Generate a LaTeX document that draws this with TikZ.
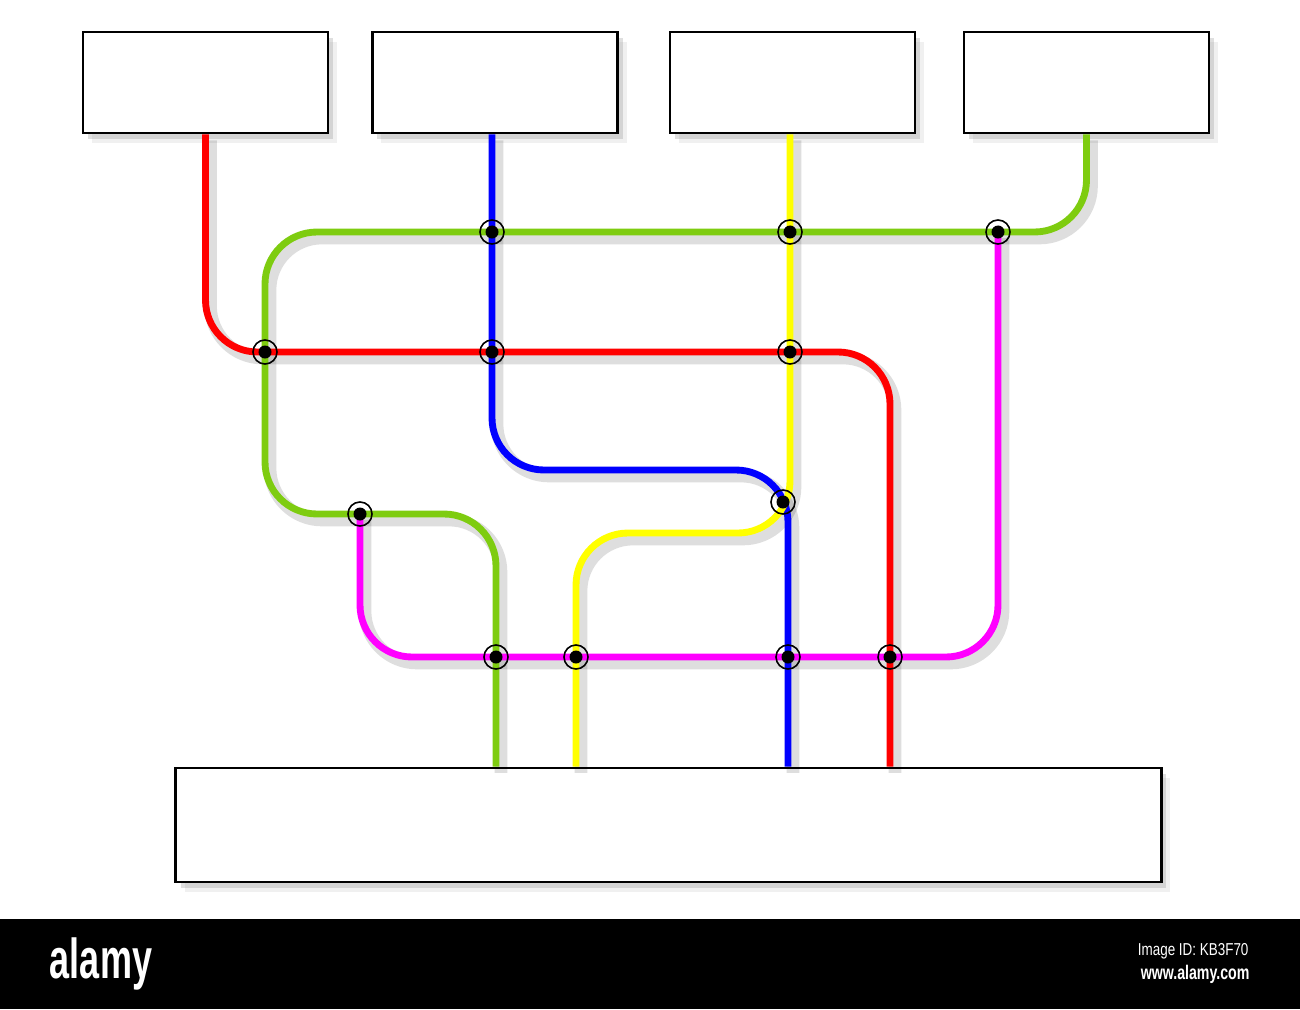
\documentclass[tikz,border=0pt]{standalone}
\usepackage{fontspec}
\newfontfamily\barfont{Liberation Sans}
\usetikzlibrary{shadows}
\definecolor{linegreen}{RGB}{126,204,16}
\definecolor{linemagenta}{RGB}{255,0,255}
\definecolor{lineyellow}{RGB}{255,255,0}

% routes, from box to box
\newcommand{\redroute}{(box1.south) -- (box1.south |- rA) -- (mE |- rA) -- (mE |- base.north)}
\newcommand{\blueroute}{(gA |- box2.south) -- (gA |- bw) -- (mD |- bw) -- (mD |- base.north)}
\newcommand{\yellowroute}{(gB |- box3.south) -- (gB |- yw) -- (mC |- yw) -- (mC |- base.north)}
\newcommand{\greenroute}{(box4.south) -- (box4.south |- gC) -- (rA |- gC) -- (rA |- mA) -- (mB |- mA) -- (mB |- base.north)}
\newcommand{\magentaroute}{(mA) -- (mA |- mB) -- (gC |- mB) -- (gC)}

\begin{document}
\begin{tikzpicture}[x=0.01cm,y=-0.01cm,
	box/.style={draw,line width=0.7pt,fill=white,inner sep=0pt,minimum width=2.45cm,minimum height=1.01cm,
		drop shadow={shadow xshift=0.09cm,shadow yshift=-0.1cm,opacity=0.12},
		drop shadow={shadow xshift=0.05cm,shadow yshift=-0.06cm,opacity=0.25}},
	route/.style={line width=1.95pt,rounded corners=0.52cm},
	routeshadow/.style={route,line width=3.6pt,black,opacity=0.13,transform canvas={xshift=0.05cm,yshift=-0.06cm}},
	ring/.style={circle,draw,line width=0.45pt,minimum size=0.24cm,inner sep=0pt},
	dot/.style={circle,fill,minimum size=0.13cm,inner sep=0pt}]
			\useasboundingbox (0,0) rectangle (1300,1009);

			% boxes
			\node[box] (box1) at (205.5,82.5) {};
			\node[box] (box2) at (495,82.5) {};
			\node[box] (box3) at (792.5,82.5) {};
			\node[box] (box4) at (1086.5,82.5) {};
			\node[box,minimum width=9.85cm,minimum height=1.14cm] (base) at (668.5,825) {};

			% stations and bends
			\coordinate (gA) at (492,232);
			\coordinate (gB) at (790,232);
			\coordinate (gC) at (998,232);
			\coordinate (rA) at (265,352);
			\coordinate (rB) at (492,352);
			\coordinate (rC) at (790,352);
			\coordinate (bY) at (783,502);
			\coordinate (mA) at (360,514);
			\coordinate (mB) at (496,657);
			\coordinate (mC) at (576,657);
			\coordinate (mD) at (788,657);
			\coordinate (mE) at (890,657);
			\coordinate (bw) at (640,470);
			\coordinate (yw) at (680,533);

			% shadows first
			\draw[routeshadow] \redroute;
			\draw[routeshadow] \blueroute;
			\draw[routeshadow] \yellowroute;
			\draw[routeshadow] \greenroute;
			\draw[routeshadow] \magentaroute;

			\draw[route,red] \redroute;
			\draw[route,blue] \blueroute;
			\draw[route,lineyellow] \yellowroute;
			\draw[route,linegreen] \greenroute;
			\draw[route,linemagenta] \magentaroute;

			\foreach \s in {gA,gB,gC,rA,rB,rC,bY,mA,mB,mC,mD,mE}{
				\node[ring] (ring-\s) at (\s) {};
				\node[dot] (dot-\s) at (\s) {};
			}

			% bottom bar
			\fill[black] (0,919) rectangle (1300,1009);
			\node[white,inner sep=0pt,xscale=0.64,font=\barfont\bfseries\fontsize{16}{16}\selectfont] (logo) at (101,964) {alamy};
			\node[white,inner sep=0pt,anchor=east,xscale=0.78,font=\barfont\fontsize{4.9}{5}\selectfont] (imgid) at (1249,951) {Image ID: KB3F70};
			\node[white,inner sep=0pt,anchor=east,xscale=0.72,font=\barfont\bfseries\fontsize{5.6}{6}\selectfont] (site) at (1250,974) {www.alamy.com};
		\end{tikzpicture}
\end{document}
